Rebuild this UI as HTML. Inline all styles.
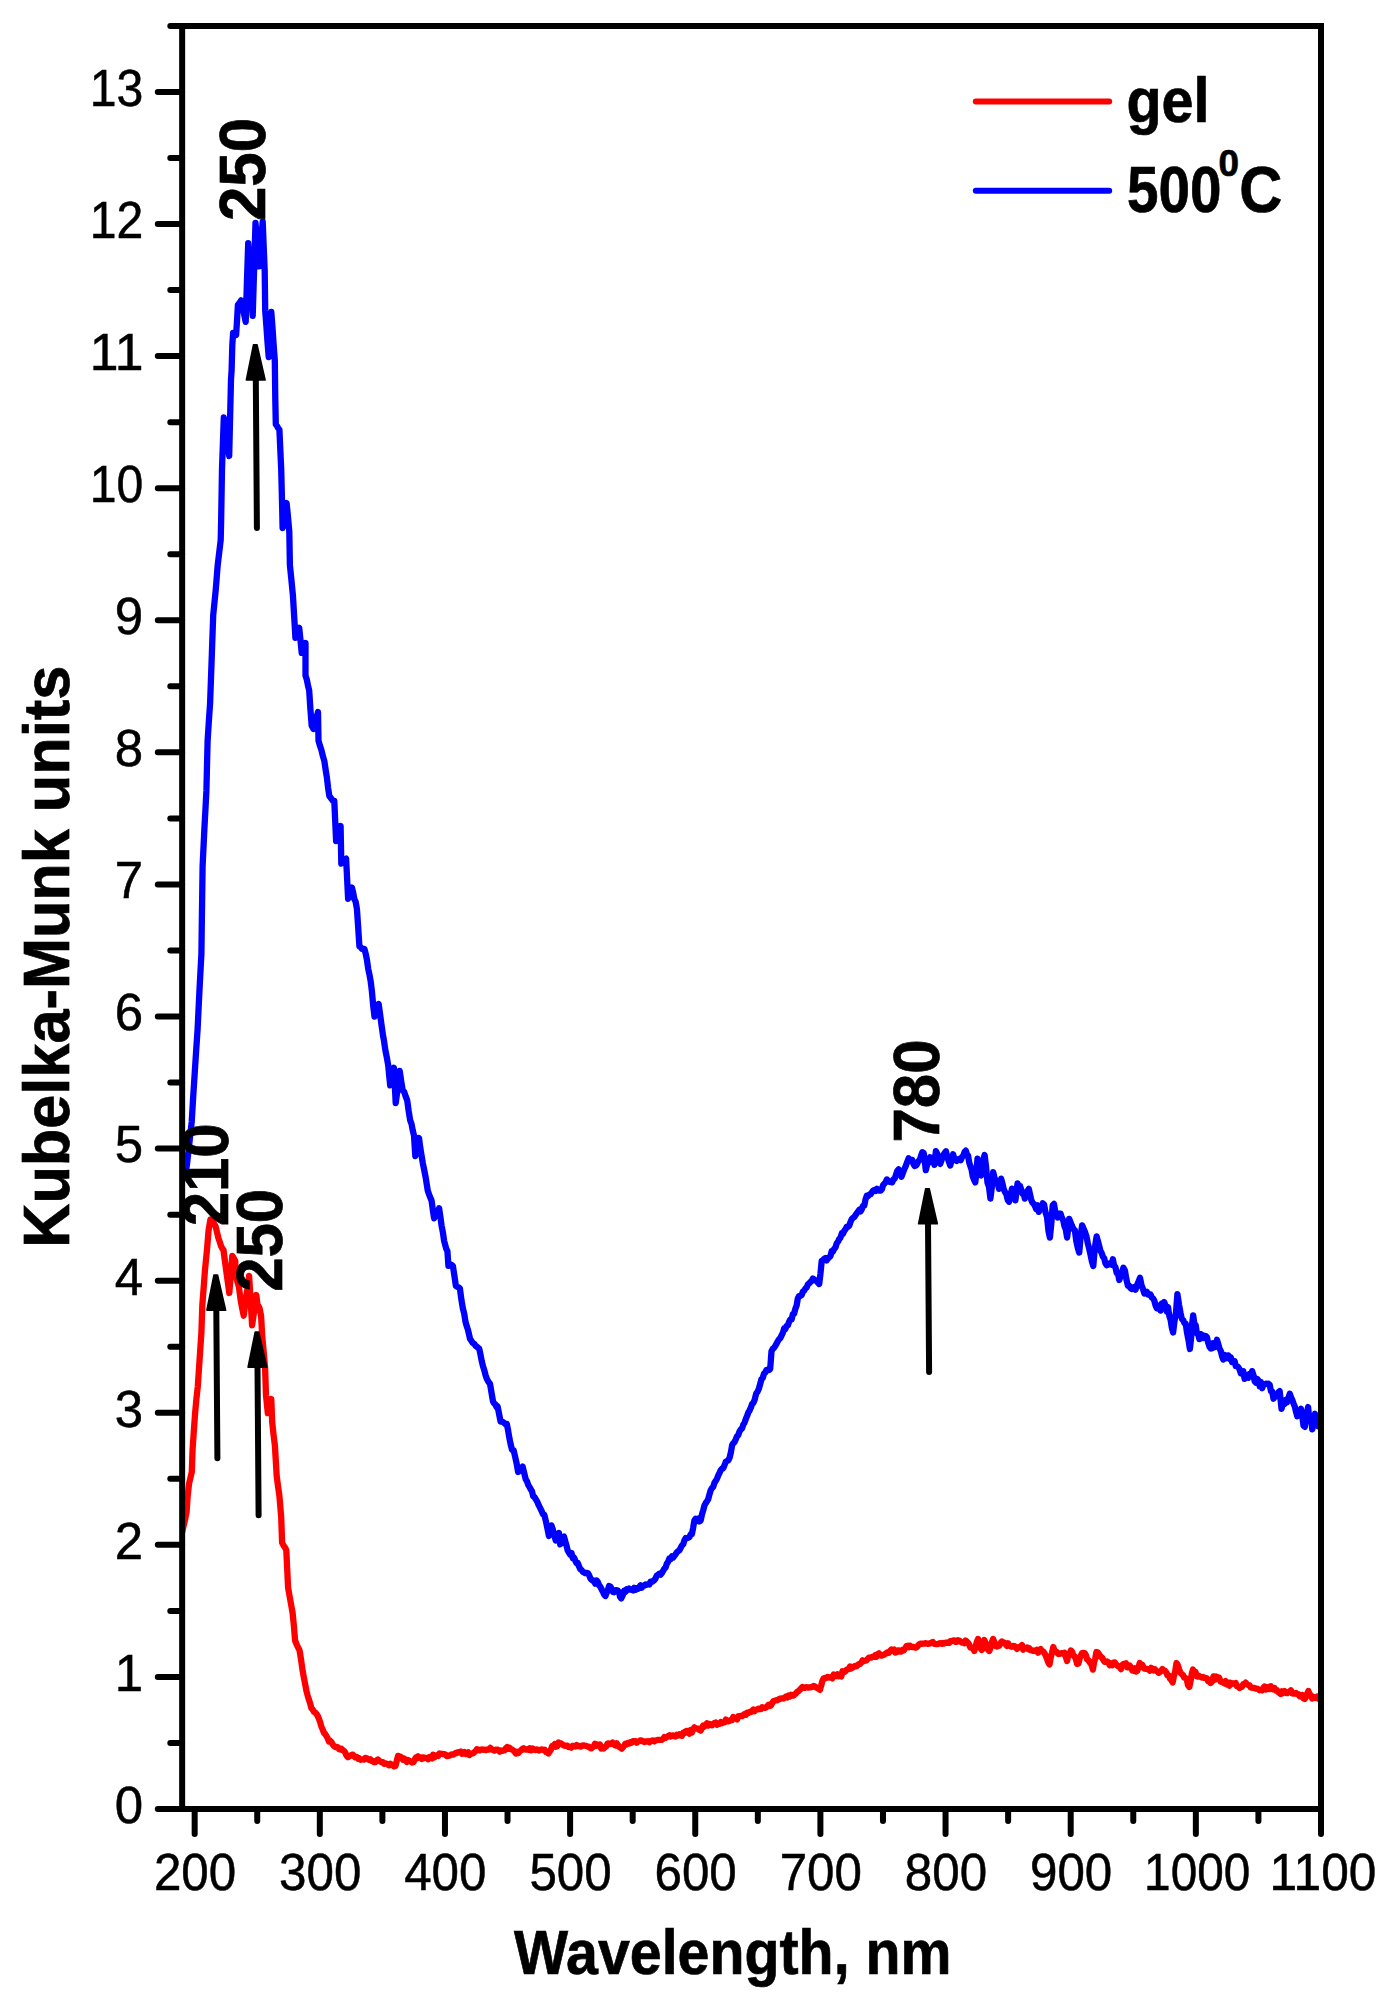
<!DOCTYPE html>
<html lang="en"><head><meta charset="utf-8"><title>Kubelka-Munk spectra</title>
<style>html,body{margin:0;padding:0;background:#fff}svg{display:block}text{font-family:"Liberation Sans",Arial,Helvetica,sans-serif;fill:#000}.b{font-weight:bold;stroke:#000;stroke-width:.7px}</style></head><body>
<svg width="1395" height="2007" viewBox="0 0 1395 2007">
<rect width="1395" height="2007" fill="#fff"/>
<defs><clipPath id="c"><rect x="182.15" y="25.95" width="1138.85" height="1783.05"/></clipPath></defs>
<g clip-path="url(#c)" fill="none" stroke-width="6.3" stroke-linejoin="round" stroke-linecap="round">
<path stroke="#0000ff" d="M185.6,1173.0 L186.9,1165.0 L188.1,1154.1 L189.3,1143.7 L190.5,1132.6 L191.7,1122.0 L193.2,1096.7 L194.8,1071.7 L196.2,1050.0 L197.6,1029.2 L199.4,991.6 L200.4,972.7 L201.4,954.0 L201.9,916.3 L202.6,866.1 L204.4,828.5 L205.4,810.2 L206.4,790.9 L207.6,740.7 L208.8,722.1 L210.1,703.1 L211.9,652.9 L213.2,615.3 L214.4,603.2 L215.7,590.2 L216.7,577.8 L217.7,565.1 L219.2,552.7 L220.7,540.0 L221.1,522.9 L222.0,469.0 L223.8,417.5 L225.2,427.2 L226.5,436.0 L227.8,446.8 L229.2,456.0 L231.0,379.4 L231.6,370.6 L232.3,345.5 L233.1,333.0 L234.6,334.2 L236.1,335.0 L237.1,319.4 L237.9,305.0 L239.5,302.9 L241.1,300.4 L242.2,305.0 L243.4,310.4 L244.5,316.1 L245.7,321.9 L246.9,282.3 L248.2,243.2 L249.7,267.6 L251.2,291.6 L252.7,315.9 L254.1,269.7 L255.5,223.0 L256.7,237.2 L257.8,252.1 L259.0,266.4 L260.2,251.6 L261.5,236.2 L262.7,221.6 L263.7,246.7 L264.7,270.3 L265.2,310.4 L266.4,326.2 L267.5,342.0 L268.7,357.0 L270.0,334.2 L271.3,311.9 L272.5,327.8 L273.6,344.2 L274.8,360.6 L275.3,399.7 L275.8,424.2 L277.0,426.0 L278.2,428.1 L279.4,429.6 L281.2,469.0 L282.1,504.9 L282.6,528.0 L283.9,519.8 L285.3,511.1 L286.6,503.0 L288.0,517.0 L289.3,531.8 L289.9,565.1 L291.4,579.9 L292.9,595.2 L294.7,625.3 L295.4,637.8 L296.7,635.0 L297.9,630.8 L299.2,627.8 L300.5,640.4 L301.7,652.9 L303.0,649.8 L304.2,646.6 L305.5,642.9 L305.5,675.5 L306.7,679.2 L308.0,685.5 L309.2,690.5 L310.4,709.3 L311.7,725.7 L313.5,729.0 L315.0,721.5 L316.5,717.4 L318.0,712.0 L318.5,740.7 L319.9,745.6 L321.4,750.0 L322.9,756.2 L324.3,760.8 L325.6,769.5 L326.8,777.0 L328.1,787.9 L329.3,795.9 L330.6,797.8 L331.8,799.3 L333.1,800.9 L334.3,800.9 L336.1,841.1 L337.6,836.4 L339.1,831.1 L340.6,826.0 L341.3,863.6 L342.5,861.2 L343.7,861.7 L344.9,859.3 L346.1,858.6 L347.1,878.3 L348.1,898.8 L349.4,893.9 L350.6,890.4 L351.9,887.5 L353.1,892.3 L354.4,899.3 L355.6,901.6 L356.9,908.8 L358.1,926.3 L359.4,946.4 L360.6,947.2 L361.9,948.9 L363.1,948.8 L364.4,948.9 L365.7,953.7 L366.9,959.7 L368.2,968.8 L369.4,974.3 L370.7,981.5 L372.0,992.2 L373.2,1005.8 L374.5,1016.7 L375.9,1013.5 L377.3,1008.4 L378.7,1004.1 L380.2,1015.2 L381.7,1026.2 L383.2,1036.7 L383.9,1040.1 L385.3,1049.9 L386.8,1057.4 L388.2,1065.2 L389.2,1075.7 L390.2,1085.3 L391.4,1079.9 L392.7,1072.2 L393.9,1067.7 L395.7,1103.0 L397.0,1093.5 L398.4,1082.5 L399.7,1071.0 L401.2,1081.1 L402.7,1090.3 L404.2,1091.9 L405.7,1096.5 L407.2,1100.4 L408.7,1111.2 L410.2,1120.4 L411.5,1123.8 L412.7,1130.3 L414.0,1135.5 L415.3,1156.0 L416.5,1150.9 L417.8,1142.8 L419.0,1138.0 L420.3,1147.8 L421.5,1155.2 L422.8,1163.1 L424.3,1170.5 L425.8,1178.1 L426.8,1184.7 L427.8,1190.7 L429.1,1194.6 L430.3,1197.5 L431.6,1200.7 L432.9,1210.5 L434.1,1218.3 L435.4,1215.2 L436.6,1212.9 L437.9,1211.7 L439.1,1208.2 L440.4,1217.0 L441.6,1225.8 L442.9,1232.5 L444.1,1240.8 L445.2,1245.0 L446.3,1248.9 L447.4,1250.9 L448.4,1265.9 L449.9,1265.5 L451.4,1264.7 L452.9,1265.9 L454.4,1275.8 L455.9,1286.0 L457.2,1286.7 L458.6,1287.4 L459.9,1288.5 L461.4,1299.8 L462.9,1308.6 L464.2,1313.5 L465.4,1321.4 L466.7,1326.1 L467.8,1329.2 L468.9,1333.8 L470.0,1338.7 L471.4,1340.9 L472.8,1343.0 L474.2,1343.7 L475.4,1345.7 L476.7,1346.5 L477.9,1347.6 L479.2,1348.7 L480.5,1354.7 L481.7,1361.0 L483.0,1366.3 L484.3,1370.3 L485.5,1374.9 L486.8,1378.8 L488.4,1381.8 L490.0,1383.8 L491.5,1392.6 L493.0,1401.4 L494.1,1403.3 L495.3,1404.4 L496.5,1407.0 L497.6,1406.4 L499.1,1414.2 L500.6,1421.5 L501.8,1421.6 L503.1,1422.2 L504.3,1423.0 L505.6,1424.3 L506.8,1424.0 L508.1,1430.4 L509.3,1437.7 L510.6,1444.1 L512.1,1449.9 L513.6,1450.1 L515.1,1456.6 L516.6,1463.3 L518.1,1472.0 L519.6,1470.4 L521.1,1468.8 L522.6,1466.6 L524.2,1473.1 L525.7,1479.2 L527.0,1481.3 L528.2,1484.8 L529.5,1487.0 L530.7,1489.2 L532.0,1491.2 L533.2,1496.4 L534.5,1497.0 L535.7,1499.2 L537.2,1501.6 L538.6,1504.9 L540.1,1507.9 L541.5,1510.8 L542.9,1514.1 L544.3,1514.8 L545.7,1520.4 L547.3,1527.8 L548.9,1536.0 L550.1,1531.6 L551.4,1525.4 L552.8,1529.4 L554.3,1535.4 L555.7,1540.5 L556.8,1538.9 L557.9,1536.3 L559.0,1533.0 L560.2,1544.3 L561.5,1543.1 L562.7,1537.7 L564.0,1536.7 L565.2,1541.0 L566.5,1545.6 L567.7,1550.5 L569.0,1552.7 L570.2,1554.8 L571.5,1553.1 L572.8,1558.2 L574.0,1557.6 L575.3,1560.6 L576.5,1563.1 L577.8,1563.0 L579.0,1566.4 L580.3,1569.2 L581.5,1569.9 L582.8,1571.9 L584.0,1572.4 L585.3,1573.2 L586.5,1572.9 L587.8,1573.1 L589.0,1574.9 L590.3,1578.2 L591.5,1579.7 L592.8,1580.6 L594.0,1580.7 L595.3,1583.7 L596.5,1580.5 L597.8,1581.9 L599.1,1585.2 L600.3,1586.7 L601.6,1589.4 L602.9,1591.7 L604.1,1594.4 L605.4,1596.0 L606.6,1592.9 L607.9,1589.9 L609.1,1586.0 L610.4,1586.6 L611.6,1588.6 L612.9,1591.9 L614.1,1592.2 L615.4,1590.4 L616.6,1590.1 L617.9,1590.7 L619.0,1592.0 L620.1,1597.0 L621.2,1598.5 L622.7,1595.3 L624.2,1590.7 L625.5,1591.8 L626.7,1589.3 L628.0,1589.9 L629.2,1588.6 L630.5,1589.4 L631.7,1589.8 L633.0,1590.4 L634.2,1587.9 L635.5,1589.8 L636.7,1588.2 L638.0,1588.7 L639.2,1587.2 L640.5,1585.2 L641.8,1587.8 L643.0,1586.0 L644.3,1585.7 L645.5,1584.5 L646.8,1584.8 L648.0,1584.2 L649.3,1584.5 L650.5,1581.6 L651.8,1581.9 L653.0,1581.3 L654.3,1580.1 L655.5,1578.5 L656.8,1575.6 L658.0,1574.8 L659.3,1573.7 L660.5,1574.6 L661.8,1573.1 L663.1,1570.9 L664.3,1568.7 L665.6,1567.6 L666.8,1563.8 L668.1,1561.8 L669.4,1558.5 L670.6,1559.0 L671.9,1556.4 L673.1,1557.5 L674.4,1555.8 L675.6,1554.3 L676.9,1552.2 L678.1,1551.1 L679.4,1550.3 L680.6,1548.0 L681.9,1545.6 L683.2,1544.2 L684.4,1540.4 L685.7,1538.0 L686.9,1538.2 L688.2,1537.8 L689.4,1537.2 L690.7,1534.4 L691.9,1534.2 L693.1,1528.1 L694.4,1520.4 L695.7,1518.7 L696.9,1519.4 L698.2,1518.6 L699.4,1521.4 L700.7,1520.4 L702.0,1514.3 L703.2,1510.4 L704.5,1505.4 L705.7,1503.1 L707.0,1501.2 L708.2,1499.1 L709.5,1494.2 L710.7,1490.3 L712.0,1488.0 L713.2,1486.9 L714.5,1482.8 L715.8,1480.8 L717.0,1478.7 L718.3,1475.3 L719.5,1473.1 L720.8,1470.1 L722.0,1468.7 L723.3,1468.2 L724.5,1465.2 L725.8,1461.8 L727.0,1460.9 L728.3,1460.5 L729.6,1457.7 L730.9,1452.2 L732.1,1445.2 L733.3,1443.2 L734.6,1441.9 L735.8,1439.3 L737.1,1436.1 L738.3,1435.1 L739.6,1431.2 L740.8,1429.5 L742.1,1428.4 L743.3,1424.6 L744.6,1422.6 L745.9,1418.8 L747.1,1415.9 L748.4,1412.2 L749.6,1410.4 L750.9,1407.5 L752.1,1403.9 L753.4,1402.8 L754.6,1400.0 L756.2,1393.6 L757.7,1391.4 L759.0,1388.2 L760.2,1383.8 L761.5,1379.1 L762.7,1378.0 L764.0,1373.8 L765.2,1372.6 L766.5,1369.8 L767.7,1370.0 L769.0,1370.1 L770.2,1368.8 L771.5,1351.2 L772.8,1348.8 L774.0,1347.9 L775.3,1345.9 L776.5,1343.8 L777.8,1341.2 L779.1,1339.3 L780.3,1338.1 L781.6,1335.3 L782.8,1333.0 L784.1,1328.5 L785.3,1329.1 L786.6,1326.1 L787.9,1325.2 L789.1,1321.7 L790.4,1319.4 L791.6,1319.5 L792.9,1314.1 L794.1,1313.6 L795.3,1309.0 L796.6,1305.7 L797.8,1298.5 L799.1,1296.0 L800.3,1295.8 L801.6,1295.2 L802.9,1291.7 L804.1,1290.7 L805.4,1288.5 L806.6,1287.6 L807.9,1284.4 L809.1,1283.4 L810.4,1282.1 L811.6,1280.9 L812.9,1278.5 L814.2,1279.6 L815.4,1280.5 L816.7,1280.9 L817.9,1282.6 L819.2,1284.0 L820.5,1273.3 L821.7,1260.9 L823.0,1260.3 L824.2,1258.7 L825.5,1258.0 L826.7,1260.4 L828.0,1258.4 L829.2,1257.2 L830.5,1255.9 L831.7,1251.1 L833.0,1251.5 L834.2,1248.8 L835.5,1247.4 L836.7,1243.4 L838.0,1241.7 L839.2,1239.1 L840.5,1237.6 L841.8,1233.3 L843.0,1233.8 L844.3,1230.8 L845.5,1229.3 L846.8,1226.6 L848.0,1226.7 L849.3,1225.4 L850.5,1222.0 L851.8,1219.0 L853.0,1217.9 L854.3,1217.0 L855.5,1215.1 L856.8,1213.2 L858.0,1211.6 L859.3,1209.8 L860.5,1211.4 L861.8,1209.1 L863.0,1205.9 L864.3,1205.7 L865.5,1199.5 L866.8,1195.7 L868.1,1196.2 L869.3,1194.6 L870.6,1194.3 L871.8,1192.4 L873.1,1190.7 L874.4,1189.9 L875.6,1190.9 L876.9,1188.8 L878.1,1190.0 L879.4,1190.6 L880.6,1190.7 L881.9,1189.2 L883.1,1185.1 L884.4,1183.7 L885.6,1182.3 L886.9,1179.4 L888.2,1180.7 L889.5,1181.9 L890.9,1182.0 L892.2,1182.4 L893.5,1179.3 L894.8,1178.4 L896.0,1174.7 L897.3,1170.8 L898.6,1169.4 L900.0,1172.1 L901.5,1176.7 L902.9,1173.0 L904.3,1169.2 L905.8,1165.9 L907.2,1162.0 L908.6,1158.3 L909.8,1159.8 L911.0,1160.5 L912.2,1160.1 L913.4,1163.8 L914.6,1166.0 L915.8,1165.6 L917.1,1164.1 L918.4,1161.1 L919.8,1159.9 L921.1,1155.7 L922.4,1152.2 L923.7,1152.9 L924.8,1161.6 L925.8,1170.2 L927.2,1164.5 L928.7,1162.6 L930.1,1157.2 L931.5,1158.1 L933.0,1158.3 L934.4,1164.8 L935.9,1151.2 L937.3,1153.8 L938.8,1162.0 L940.2,1163.8 L941.6,1160.1 L943.0,1155.4 L944.5,1153.2 L945.9,1151.2 L947.3,1156.8 L948.8,1161.5 L950.2,1165.6 L951.7,1160.2 L953.1,1154.3 L954.3,1158.7 L955.5,1159.8 L956.7,1160.9 L958.0,1159.4 L959.3,1158.8 L960.7,1160.2 L962.0,1157.1 L963.3,1155.8 L964.6,1151.9 L965.8,1150.7 L966.9,1154.1 L968.1,1155.7 L969.2,1162.5 L970.3,1165.9 L971.5,1169.3 L972.8,1176.6 L974.0,1179.6 L975.3,1182.4 L976.4,1172.6 L977.5,1158.6 L978.5,1166.1 L979.6,1174.5 L980.9,1175.5 L982.1,1167.6 L983.4,1159.4 L984.6,1155.0 L986.0,1166.1 L987.5,1182.7 L989.0,1186.8 L990.4,1198.5 L991.8,1187.4 L993.2,1172.2 L994.7,1178.6 L996.1,1180.5 L997.5,1182.0 L999.0,1188.8 L1000.0,1184.2 L1001.1,1178.7 L1002.4,1183.4 L1003.7,1189.0 L1005.0,1192.1 L1006.4,1194.2 L1007.7,1199.9 L1009.0,1201.8 L1010.5,1196.5 L1011.9,1188.7 L1013.1,1193.0 L1014.2,1196.6 L1015.4,1200.3 L1016.5,1191.2 L1017.6,1183.3 L1018.8,1187.4 L1020.0,1186.0 L1021.2,1189.5 L1022.4,1193.5 L1023.6,1192.7 L1024.8,1198.6 L1026.2,1193.7 L1027.6,1190.9 L1028.8,1188.9 L1030.1,1194.6 L1031.3,1200.1 L1032.5,1202.7 L1033.7,1203.8 L1035.0,1206.1 L1036.2,1209.2 L1037.5,1205.2 L1038.8,1211.8 L1040.2,1208.0 L1041.5,1208.6 L1042.8,1203.3 L1044.1,1204.5 L1045.5,1212.3 L1047.0,1216.9 L1048.5,1231.1 L1049.9,1237.6 L1051.3,1223.6 L1052.7,1205.2 L1054.0,1203.9 L1055.2,1211.2 L1056.5,1215.9 L1057.7,1217.5 L1059.1,1213.6 L1060.6,1213.7 L1062.0,1218.1 L1063.3,1220.5 L1064.5,1226.4 L1065.8,1229.5 L1067.1,1237.6 L1068.2,1228.3 L1069.2,1218.8 L1070.6,1222.3 L1072.1,1226.1 L1073.5,1229.1 L1074.9,1230.4 L1076.3,1241.3 L1077.8,1247.9 L1079.2,1252.6 L1080.7,1235.9 L1082.1,1225.3 L1083.5,1228.6 L1084.9,1231.8 L1086.4,1236.2 L1087.8,1243.2 L1089.2,1248.7 L1090.5,1254.6 L1091.9,1261.4 L1093.3,1266.0 L1094.4,1252.5 L1095.5,1243.4 L1096.6,1236.4 L1097.9,1241.1 L1099.1,1245.5 L1100.4,1250.7 L1101.7,1253.1 L1102.9,1256.8 L1104.2,1258.3 L1105.4,1263.2 L1106.6,1265.2 L1107.9,1264.8 L1109.1,1264.1 L1110.4,1263.1 L1111.6,1264.7 L1112.9,1259.2 L1114.1,1265.8 L1115.4,1267.1 L1116.7,1273.0 L1117.9,1273.0 L1119.2,1280.0 L1120.6,1276.4 L1122.0,1272.2 L1123.4,1267.8 L1124.9,1270.6 L1126.4,1279.2 L1127.9,1285.8 L1129.2,1285.7 L1130.4,1288.1 L1131.7,1289.1 L1133.0,1288.2 L1134.2,1287.0 L1135.5,1289.6 L1137.0,1285.3 L1138.5,1281.6 L1140.0,1277.8 L1141.4,1284.7 L1142.9,1288.9 L1144.3,1293.4 L1145.5,1292.5 L1146.8,1291.7 L1148.0,1294.7 L1149.3,1294.6 L1150.5,1294.4 L1151.8,1297.4 L1153.0,1298.4 L1154.3,1300.6 L1155.5,1305.3 L1156.8,1308.4 L1158.0,1308.6 L1159.3,1305.4 L1160.5,1310.6 L1161.8,1303.5 L1163.0,1305.7 L1164.3,1302.1 L1165.5,1305.8 L1166.8,1311.6 L1168.0,1307.0 L1169.3,1315.9 L1170.6,1319.7 L1171.8,1327.5 L1173.1,1332.5 L1174.5,1321.1 L1176.0,1312.3 L1177.4,1294.1 L1179.0,1304.5 L1180.6,1313.4 L1181.9,1318.9 L1183.2,1320.2 L1184.4,1323.2 L1185.7,1323.5 L1187.1,1333.2 L1188.5,1340.1 L1189.9,1349.0 L1191.0,1339.0 L1192.1,1324.1 L1193.2,1315.4 L1194.4,1324.2 L1195.7,1325.1 L1196.9,1333.5 L1198.2,1334.4 L1199.4,1339.1 L1200.7,1334.1 L1201.9,1335.0 L1203.2,1338.0 L1204.4,1335.7 L1205.7,1336.0 L1207.0,1337.3 L1208.2,1342.8 L1209.5,1346.7 L1210.7,1348.5 L1212.0,1348.4 L1213.2,1343.2 L1214.5,1347.3 L1215.7,1345.4 L1217.0,1339.8 L1218.2,1343.9 L1219.5,1348.6 L1220.8,1351.0 L1222.0,1356.1 L1223.3,1359.5 L1224.5,1354.8 L1225.8,1358.2 L1227.0,1355.7 L1228.3,1355.4 L1229.5,1358.8 L1230.8,1357.3 L1232.1,1362.1 L1233.3,1360.8 L1234.6,1361.0 L1235.8,1366.2 L1237.1,1366.1 L1238.3,1367.2 L1239.6,1369.3 L1240.8,1373.4 L1242.1,1373.7 L1243.3,1371.2 L1244.6,1378.9 L1245.8,1374.9 L1247.1,1376.1 L1248.4,1377.7 L1249.6,1374.1 L1250.9,1375.3 L1252.1,1371.1 L1253.4,1374.9 L1254.7,1381.3 L1255.9,1382.6 L1257.2,1378.9 L1258.4,1380.5 L1259.7,1386.2 L1260.9,1382.1 L1262.2,1388.2 L1263.4,1384.1 L1264.7,1384.6 L1265.9,1383.7 L1267.2,1383.8 L1268.4,1383.7 L1269.7,1384.9 L1271.0,1391.3 L1272.2,1391.6 L1273.5,1398.7 L1274.7,1397.0 L1276.0,1396.4 L1277.2,1395.3 L1278.5,1392.2 L1279.7,1391.2 L1281.5,1408.8 L1282.9,1404.2 L1284.3,1404.1 L1285.7,1400.1 L1287.0,1402.3 L1288.4,1398.0 L1289.8,1393.7 L1291.0,1397.2 L1292.3,1400.1 L1293.5,1403.4 L1294.8,1406.6 L1296.0,1411.7 L1297.3,1416.3 L1298.5,1414.5 L1299.8,1412.5 L1301.0,1408.8 L1302.3,1416.1 L1303.5,1425.6 L1304.8,1426.8 L1305.9,1418.6 L1307.0,1413.6 L1308.1,1407.0 L1309.5,1420.9 L1310.9,1417.6 L1312.3,1429.3 L1313.6,1420.4 L1314.9,1413.8 L1316.5,1420.4 L1318.1,1426.3 L1319.4,1424.6 L1320.7,1423.0 L1322.0,1420.0"/>
<path stroke="#ff0000" d="M182.2,1532.0 L183.3,1526.9 L184.5,1522.0 L185.6,1517.0 L186.6,1511.8 L187.6,1497.0 L189.0,1483.9 L190.4,1477.9 L191.8,1471.9 L192.6,1449.1 L193.8,1431.5 L195.1,1413.2 L196.4,1399.0 L197.8,1386.3 L199.6,1359.4 L201.4,1332.5 L202.3,1305.6 L203.7,1287.3 L205.0,1269.7 L206.8,1251.7 L208.6,1230.2 L210.4,1219.5 L211.7,1221.3 L213.1,1222.6 L214.4,1224.4 L215.7,1226.6 L217.1,1232.6 L218.4,1238.0 L219.7,1241.7 L221.0,1246.0 L222.2,1248.3 L223.5,1250.0 L224.5,1258.0 L225.7,1266.8 L226.8,1275.0 L228.1,1284.1 L229.3,1293.0 L230.8,1274.6 L232.3,1255.8 L233.8,1258.4 L235.3,1261.0 L235.6,1276.0 L236.7,1279.0 L237.8,1283.2 L238.9,1286.8 L240.7,1300.5 L242.2,1308.3 L243.7,1315.7 L245.0,1305.5 L246.4,1295.7 L247.8,1286.1 L249.1,1275.8 L250.6,1300.2 L252.1,1325.3 L253.5,1315.5 L254.9,1305.8 L256.3,1295.0 L257.5,1304.7 L258.5,1306.1 L259.5,1308.0 L261.1,1316.1 L262.3,1337.6 L263.5,1349.6 L265.1,1368.3 L266.0,1395.2 L267.8,1413.2 L269.0,1408.5 L270.1,1403.7 L271.3,1399.0 L272.2,1422.2 L273.5,1434.5 L274.9,1445.5 L276.7,1476.0 L278.0,1486.0 L279.4,1495.7 L281.2,1517.2 L282.1,1542.6 L283.5,1545.5 L284.9,1547.4 L286.3,1550.2 L288.1,1587.8 L289.6,1596.2 L291.1,1604.5 L292.6,1612.9 L293.9,1626.0 L295.1,1640.5 L296.6,1644.4 L298.1,1647.5 L299.6,1650.5 L301.1,1659.9 L302.6,1670.6 L303.9,1677.6 L305.1,1683.9 L306.4,1690.7 L307.6,1695.3 L308.9,1699.6 L310.1,1703.2 L311.4,1708.2 L312.7,1709.6 L313.9,1711.8 L315.2,1712.5 L316.4,1713.9 L317.7,1715.8 L319.0,1719.0 L320.2,1722.3 L321.5,1727.0 L322.7,1729.5 L324.0,1732.9 L325.2,1734.1 L326.5,1736.2 L327.7,1738.3 L329.0,1741.6 L330.2,1740.8 L331.5,1742.2 L332.8,1744.6 L334.0,1746.1 L335.3,1747.1 L336.5,1746.8 L337.8,1747.2 L339.0,1749.0 L340.3,1749.5 L341.5,1748.8 L342.8,1750.2 L344.0,1750.9 L345.3,1752.6 L346.5,1755.5 L347.8,1757.2 L349.1,1756.5 L350.3,1755.8 L351.6,1755.0 L352.8,1754.6 L354.1,1756.3 L355.3,1757.4 L356.6,1756.9 L357.9,1758.7 L359.1,1758.2 L360.4,1759.7 L361.6,1759.3 L362.9,1759.4 L364.1,1759.6 L365.4,1757.9 L366.6,1758.2 L367.9,1759.1 L369.1,1759.9 L370.4,1759.2 L371.6,1761.0 L372.9,1761.0 L374.1,1762.2 L375.4,1762.2 L376.6,1760.6 L377.9,1759.6 L379.2,1760.9 L380.4,1761.5 L381.7,1762.2 L382.9,1762.1 L384.2,1763.8 L385.4,1763.4 L386.7,1763.7 L387.9,1764.7 L389.2,1765.3 L390.4,1763.8 L391.7,1764.8 L393.0,1765.5 L394.2,1766.4 L395.5,1765.9 L396.8,1760.8 L398.0,1755.9 L399.2,1756.8 L400.5,1756.6 L401.8,1758.0 L403.0,1759.8 L404.2,1758.5 L405.5,1759.7 L406.8,1762.0 L408.2,1760.0 L409.5,1761.0 L410.8,1761.5 L412.2,1762.6 L413.5,1762.2 L414.6,1759.8 L415.8,1757.6 L417.0,1758.3 L418.1,1756.4 L419.4,1757.2 L420.6,1757.3 L421.9,1759.0 L423.1,1757.3 L424.4,1757.5 L425.6,1758.2 L426.9,1758.0 L428.1,1759.2 L429.4,1757.0 L430.6,1757.9 L431.9,1758.4 L433.1,1754.8 L434.4,1757.4 L435.6,1755.6 L436.9,1755.8 L438.1,1756.0 L439.4,1753.4 L440.7,1753.8 L441.9,1753.9 L443.2,1754.1 L444.4,1754.2 L445.7,1754.7 L446.9,1756.1 L448.2,1755.9 L449.4,1755.5 L450.7,1755.0 L451.9,1754.3 L453.2,1754.7 L454.4,1753.9 L455.7,1752.9 L456.9,1753.1 L458.2,1752.1 L459.4,1752.2 L460.7,1751.5 L461.9,1753.8 L463.2,1753.2 L464.4,1752.2 L465.7,1754.0 L466.9,1753.6 L468.2,1752.3 L469.4,1755.0 L470.7,1753.9 L472.0,1753.5 L473.2,1753.2 L474.5,1751.9 L475.8,1750.9 L477.0,1749.1 L478.3,1749.6 L479.6,1750.4 L481.0,1749.6 L482.3,1749.4 L483.7,1749.9 L485.0,1749.7 L486.4,1750.1 L487.7,1749.3 L489.1,1749.6 L490.4,1747.9 L491.8,1749.3 L493.1,1750.1 L494.5,1750.7 L495.8,1749.6 L497.1,1749.6 L498.3,1750.0 L499.6,1751.6 L500.8,1750.4 L502.1,1750.9 L503.4,1750.5 L504.6,1750.3 L505.9,1748.1 L507.1,1747.1 L508.4,1748.7 L509.6,1747.8 L510.9,1749.2 L512.1,1749.6 L513.4,1750.4 L514.6,1751.9 L515.9,1753.5 L517.1,1751.7 L518.4,1752.9 L519.7,1751.1 L520.9,1750.6 L522.2,1748.9 L523.5,1748.2 L524.8,1749.5 L526.1,1749.7 L527.4,1749.1 L528.7,1749.9 L529.9,1748.3 L531.2,1750.3 L532.5,1748.5 L533.8,1749.3 L535.1,1750.0 L536.5,1749.5 L537.8,1749.6 L539.2,1750.5 L540.6,1749.8 L542.0,1749.4 L543.3,1750.1 L544.7,1749.6 L546.0,1752.1 L547.2,1752.1 L548.5,1753.4 L549.8,1751.2 L551.0,1749.4 L552.3,1745.9 L553.6,1745.8 L554.8,1744.2 L556.1,1746.8 L557.3,1746.2 L558.6,1742.5 L559.8,1743.7 L561.1,1743.4 L562.4,1744.4 L563.6,1745.4 L564.9,1745.8 L566.1,1745.6 L567.4,1745.6 L568.6,1747.1 L569.9,1747.1 L571.3,1747.7 L572.6,1746.0 L574.0,1745.9 L575.3,1746.6 L576.7,1745.0 L578.0,1746.2 L579.4,1746.0 L580.7,1746.6 L582.1,1745.6 L583.4,1745.4 L584.8,1745.7 L586.1,1745.9 L587.4,1746.5 L588.7,1746.6 L589.9,1747.8 L591.2,1748.4 L592.4,1747.5 L593.7,1746.3 L594.9,1743.9 L596.2,1745.9 L597.4,1744.6 L598.7,1745.5 L599.9,1744.5 L601.2,1748.6 L602.4,1747.2 L603.7,1748.4 L605.0,1747.1 L606.2,1746.3 L607.5,1743.6 L608.7,1743.4 L610.0,1744.0 L611.3,1743.8 L612.6,1742.6 L614.0,1744.5 L615.3,1745.5 L616.6,1743.3 L617.9,1745.0 L619.2,1746.9 L620.4,1747.6 L621.7,1748.7 L622.9,1747.4 L624.2,1745.7 L625.4,1743.7 L626.7,1744.4 L627.9,1742.9 L629.2,1743.5 L630.5,1742.1 L631.7,1742.7 L633.0,1741.2 L634.2,1741.4 L635.5,1741.2 L636.8,1742.6 L638.0,1741.6 L639.2,1741.1 L640.5,1740.3 L641.8,1740.6 L643.0,1741.4 L644.2,1742.0 L645.5,1741.5 L646.8,1741.6 L648.0,1741.2 L649.2,1742.3 L650.5,1741.2 L651.8,1740.7 L653.0,1740.4 L654.3,1741.4 L655.5,1740.6 L656.8,1740.2 L658.1,1739.8 L659.3,1739.9 L660.6,1739.9 L661.9,1739.8 L663.1,1738.9 L664.4,1737.1 L665.6,1737.8 L666.9,1737.0 L668.1,1736.2 L669.4,1735.3 L670.6,1736.6 L671.9,1735.6 L673.1,1735.4 L674.4,1736.2 L675.6,1736.5 L676.9,1734.7 L678.1,1735.5 L679.4,1734.3 L680.6,1734.9 L681.9,1735.8 L683.2,1732.7 L684.4,1733.1 L685.7,1731.2 L686.9,1730.9 L688.2,1732.3 L689.4,1733.7 L690.7,1730.1 L691.9,1732.4 L693.1,1729.6 L694.4,1727.4 L695.6,1728.4 L696.9,1728.6 L698.1,1728.7 L699.4,1729.9 L700.7,1730.6 L701.9,1728.0 L703.2,1725.6 L704.4,1726.6 L705.7,1724.9 L707.0,1723.4 L708.2,1725.6 L709.5,1724.0 L710.7,1724.5 L712.0,1725.3 L713.3,1724.2 L714.5,1722.9 L715.8,1722.5 L717.0,1724.7 L718.3,1723.6 L719.5,1723.8 L720.8,1722.2 L722.0,1723.2 L723.3,1722.5 L724.5,1722.3 L725.8,1719.6 L727.0,1720.8 L728.3,1721.4 L729.5,1720.9 L730.8,1719.9 L732.1,1720.1 L733.3,1716.9 L734.6,1718.5 L735.8,1718.3 L737.1,1719.4 L738.4,1716.1 L739.6,1716.1 L740.9,1715.9 L742.1,1716.1 L743.4,1714.9 L744.6,1714.0 L745.9,1714.8 L747.1,1712.7 L748.4,1713.1 L749.6,1711.9 L750.9,1712.0 L752.1,1710.8 L753.4,1709.5 L754.6,1711.2 L755.9,1709.8 L757.2,1709.7 L758.4,1708.7 L759.7,1709.0 L760.9,1709.2 L762.2,1707.3 L763.4,1707.7 L764.7,1707.9 L765.9,1707.5 L767.2,1706.5 L768.4,1704.8 L769.7,1706.1 L771.0,1705.4 L772.2,1703.0 L773.5,1701.1 L774.8,1700.8 L776.0,1700.2 L777.2,1700.3 L778.5,1699.5 L779.8,1698.7 L781.0,1698.6 L782.2,1698.3 L783.5,1698.5 L784.8,1697.5 L786.0,1696.6 L787.2,1697.5 L788.5,1695.5 L789.8,1696.5 L791.0,1694.7 L792.2,1695.3 L793.5,1695.6 L794.8,1694.2 L796.0,1693.5 L797.3,1691.7 L798.5,1691.0 L799.8,1689.9 L801.1,1688.5 L802.4,1686.9 L803.6,1687.5 L804.9,1687.9 L806.1,1687.1 L807.4,1687.3 L808.6,1687.6 L809.9,1687.4 L811.1,1687.2 L812.4,1686.7 L813.6,1686.0 L814.9,1686.5 L816.1,1687.5 L817.4,1688.1 L818.6,1688.8 L819.9,1689.8 L821.1,1685.9 L822.4,1680.9 L823.6,1678.5 L824.9,1678.0 L826.1,1678.0 L827.4,1677.0 L828.6,1677.5 L829.9,1677.7 L831.2,1676.9 L832.4,1678.4 L833.7,1674.4 L834.9,1676.1 L836.2,1676.0 L837.5,1674.3 L838.7,1676.3 L840.0,1675.3 L841.3,1676.4 L842.5,1671.2 L843.8,1672.3 L845.1,1671.6 L846.3,1669.9 L847.6,1669.1 L848.9,1669.1 L850.1,1666.4 L851.4,1668.4 L852.6,1667.5 L853.9,1666.7 L855.1,1665.8 L856.4,1666.3 L857.6,1665.3 L858.9,1664.1 L860.1,1663.9 L861.4,1662.5 L862.6,1660.4 L863.9,1661.3 L865.1,1660.7 L866.4,1660.4 L867.6,1659.0 L868.9,1657.7 L870.1,1657.7 L871.4,1657.6 L872.7,1656.6 L873.9,1656.9 L875.2,1655.3 L876.5,1656.7 L877.7,1654.2 L879.0,1653.3 L880.2,1655.3 L881.5,1655.7 L882.7,1655.1 L884.0,1654.8 L885.2,1654.0 L886.5,1652.9 L887.7,1652.2 L889.0,1652.8 L890.2,1650.7 L891.5,1649.4 L892.7,1650.2 L894.0,1649.6 L895.2,1652.6 L896.5,1652.3 L897.7,1650.4 L899.0,1650.5 L900.2,1651.5 L901.5,1651.5 L902.8,1649.7 L904.0,1650.2 L905.3,1648.0 L906.5,1646.0 L907.8,1645.7 L909.0,1647.1 L910.3,1645.9 L911.5,1646.9 L912.8,1647.0 L914.0,1647.1 L915.3,1647.7 L916.5,1647.4 L917.8,1646.0 L919.0,1644.5 L920.3,1643.7 L921.5,1643.9 L922.8,1643.7 L924.0,1643.7 L925.3,1643.2 L926.6,1643.3 L927.8,1643.8 L929.1,1643.6 L930.3,1643.0 L931.6,1643.1 L932.9,1642.1 L934.1,1643.8 L935.4,1644.0 L936.6,1644.2 L937.9,1644.1 L939.1,1643.4 L940.4,1643.2 L941.6,1643.9 L942.9,1643.0 L944.1,1643.5 L945.4,1642.7 L946.7,1642.9 L947.9,1642.4 L949.2,1643.0 L950.4,1641.2 L951.7,1641.2 L953.0,1640.6 L954.2,1640.3 L955.5,1641.9 L956.7,1641.9 L958.0,1640.2 L959.2,1640.5 L960.5,1641.5 L961.8,1642.5 L963.0,1642.4 L964.2,1643.2 L965.5,1640.6 L966.8,1641.6 L968.0,1642.7 L969.3,1644.9 L970.5,1647.7 L971.8,1647.8 L973.0,1648.3 L974.3,1651.0 L975.5,1646.6 L976.8,1642.2 L978.0,1639.0 L979.3,1641.6 L980.5,1648.1 L981.8,1650.0 L983.0,1644.2 L984.3,1640.0 L985.5,1642.8 L986.8,1648.1 L988.0,1649.7 L989.3,1651.0 L990.6,1647.4 L991.8,1642.3 L993.1,1639.0 L994.3,1642.0 L995.6,1645.9 L996.8,1646.5 L998.1,1646.0 L999.3,1645.5 L1000.6,1642.9 L1001.9,1641.5 L1003.1,1642.8 L1004.4,1642.7 L1005.6,1644.2 L1006.9,1645.9 L1008.1,1643.4 L1009.4,1645.7 L1010.6,1646.5 L1011.9,1646.8 L1013.1,1645.8 L1014.4,1646.1 L1015.7,1647.4 L1016.9,1648.9 L1018.2,1647.3 L1019.4,1646.9 L1020.7,1646.5 L1022.0,1645.1 L1023.2,1649.7 L1024.5,1648.0 L1025.7,1648.3 L1027.0,1647.5 L1028.2,1649.2 L1029.5,1648.4 L1030.7,1650.2 L1032.0,1650.4 L1033.2,1651.0 L1034.5,1650.6 L1035.7,1651.1 L1037.0,1649.8 L1038.2,1652.7 L1039.5,1650.3 L1040.7,1649.1 L1042.0,1651.1 L1043.2,1651.5 L1044.5,1653.2 L1045.7,1655.5 L1047.0,1658.9 L1048.2,1662.2 L1049.5,1664.5 L1050.8,1657.2 L1052.0,1652.7 L1053.3,1647.0 L1054.5,1650.5 L1055.8,1651.3 L1057.0,1652.1 L1058.3,1654.0 L1059.6,1653.9 L1060.8,1653.4 L1062.1,1653.2 L1063.3,1653.9 L1064.6,1652.8 L1065.8,1656.8 L1067.1,1661.0 L1068.3,1654.6 L1069.6,1654.0 L1070.8,1650.5 L1072.1,1651.6 L1073.3,1655.6 L1074.6,1656.3 L1075.9,1659.3 L1077.1,1663.9 L1078.4,1663.5 L1079.6,1658.7 L1080.9,1655.2 L1082.1,1653.0 L1083.4,1652.8 L1084.6,1653.0 L1085.9,1655.1 L1087.1,1659.3 L1088.4,1660.3 L1089.9,1662.6 L1091.4,1664.3 L1092.9,1669.6 L1094.1,1662.0 L1095.2,1658.6 L1096.4,1652.0 L1097.9,1652.5 L1099.3,1654.5 L1100.8,1656.7 L1102.2,1657.8 L1103.5,1660.3 L1104.7,1661.9 L1106.0,1661.7 L1107.2,1661.5 L1108.5,1662.4 L1109.7,1665.3 L1111.0,1664.0 L1112.2,1665.1 L1113.5,1662.5 L1114.7,1662.3 L1116.0,1664.2 L1117.2,1665.4 L1118.5,1666.4 L1119.7,1667.1 L1121.0,1669.1 L1122.2,1665.0 L1123.5,1664.0 L1124.8,1664.0 L1126.0,1663.4 L1127.3,1667.4 L1128.6,1667.2 L1129.8,1665.7 L1131.1,1667.8 L1132.3,1670.4 L1133.6,1670.8 L1134.8,1668.4 L1136.1,1671.6 L1137.3,1670.9 L1138.6,1666.8 L1139.8,1663.0 L1141.1,1667.1 L1142.3,1664.7 L1143.6,1667.8 L1144.8,1668.7 L1146.1,1668.9 L1147.3,1669.0 L1148.6,1669.3 L1149.8,1670.6 L1151.1,1667.9 L1152.3,1668.5 L1153.6,1670.3 L1154.9,1669.3 L1156.2,1670.9 L1157.4,1671.4 L1158.7,1672.8 L1159.9,1672.0 L1161.2,1670.7 L1162.4,1669.1 L1163.7,1670.4 L1164.9,1670.8 L1166.2,1672.3 L1167.4,1675.2 L1168.7,1675.3 L1170.0,1678.6 L1171.4,1680.2 L1172.7,1682.5 L1174.0,1675.6 L1175.2,1671.4 L1176.5,1663.0 L1177.8,1665.1 L1179.1,1669.3 L1180.4,1672.7 L1181.7,1674.1 L1183.0,1675.0 L1184.2,1677.6 L1185.5,1677.8 L1186.8,1679.5 L1188.0,1685.1 L1189.3,1687.0 L1190.5,1681.4 L1191.8,1673.4 L1193.0,1669.5 L1194.2,1672.1 L1195.5,1672.0 L1196.8,1676.4 L1198.0,1676.6 L1199.3,1676.0 L1200.5,1676.8 L1201.8,1677.5 L1203.1,1677.0 L1204.3,1677.9 L1205.6,1677.8 L1206.8,1678.4 L1208.1,1681.2 L1209.3,1681.6 L1210.6,1682.9 L1212.0,1681.6 L1213.5,1676.4 L1215.0,1679.6 L1216.4,1676.6 L1217.8,1678.3 L1219.2,1677.8 L1220.6,1681.6 L1221.9,1681.9 L1223.1,1682.5 L1224.4,1683.4 L1225.6,1681.0 L1226.9,1684.4 L1228.2,1682.5 L1229.4,1685.7 L1230.7,1682.9 L1231.9,1684.0 L1233.2,1683.4 L1234.5,1683.5 L1235.7,1683.1 L1237.0,1686.3 L1238.2,1686.6 L1239.5,1687.9 L1240.7,1686.6 L1242.0,1686.8 L1243.2,1684.2 L1244.5,1684.1 L1245.7,1682.6 L1247.0,1684.4 L1248.2,1684.9 L1249.5,1685.3 L1250.7,1687.5 L1252.0,1687.8 L1253.2,1687.9 L1254.5,1687.9 L1255.7,1688.7 L1257.0,1688.6 L1258.3,1689.3 L1259.5,1690.2 L1260.8,1689.6 L1262.0,1690.3 L1263.3,1687.9 L1264.5,1686.5 L1265.8,1689.6 L1267.0,1687.7 L1268.3,1687.1 L1269.5,1689.0 L1270.8,1686.2 L1272.0,1688.4 L1273.3,1689.3 L1274.5,1688.1 L1275.8,1690.4 L1277.0,1690.2 L1278.3,1692.1 L1279.5,1692.9 L1280.8,1694.0 L1282.0,1691.4 L1283.3,1692.9 L1284.6,1691.0 L1285.8,1693.0 L1287.1,1693.2 L1288.3,1692.1 L1289.6,1691.6 L1290.9,1690.4 L1292.1,1693.3 L1293.4,1693.7 L1294.6,1693.7 L1295.9,1692.9 L1297.1,1694.2 L1298.4,1694.2 L1299.7,1696.1 L1300.9,1695.4 L1302.2,1694.9 L1303.4,1698.4 L1304.7,1699.0 L1305.9,1696.9 L1307.2,1693.7 L1308.4,1691.0 L1309.7,1694.6 L1310.9,1695.3 L1312.2,1698.5 L1313.5,1698.0 L1314.7,1697.2 L1316.0,1697.8 L1317.2,1696.7 L1318.4,1698.7 L1319.6,1696.5 L1320.8,1699.4 L1322.0,1697.0"/>
</g>
<g stroke="#000" stroke-width="6" stroke-linecap="round" fill="none">
<path d="M170.3,25.95 H1321.0"/>
<path d="M157.8,1809.0 H1321.0"/>
<path stroke-linecap="butt" d="M182.15,25.95 V1809.0"/>
<path stroke-linecap="butt" d="M1321.0,22.95 V1809.0"/>
<path d="M157.8,1676.92 H182.15 M157.8,1544.84 H182.15 M157.8,1412.76 H182.15 M157.8,1280.68 H182.15 M157.8,1148.60 H182.15 M157.8,1016.52 H182.15 M157.8,884.44 H182.15 M157.8,752.36 H182.15 M157.8,620.28 H182.15 M157.8,488.20 H182.15 M157.8,356.12 H182.15 M157.8,224.04 H182.15 M157.8,91.96 H182.15 M170.3,1742.96 H182.15 M170.3,1610.88 H182.15 M170.3,1478.80 H182.15 M170.3,1346.72 H182.15 M170.3,1214.64 H182.15 M170.3,1082.56 H182.15 M170.3,950.48 H182.15 M170.3,818.40 H182.15 M170.3,686.32 H182.15 M170.3,554.24 H182.15 M170.3,422.16 H182.15 M170.3,290.08 H182.15 M170.3,158.00 H182.15 "/>
<path d="M194.66,1809.0 V1833.9 M319.81,1809.0 V1833.9 M444.96,1809.0 V1833.9 M570.11,1809.0 V1833.9 M695.26,1809.0 V1833.9 M820.40,1809.0 V1833.9 M945.55,1809.0 V1833.9 M1070.70,1809.0 V1833.9 M1195.85,1809.0 V1833.9 M1321.00,1809.0 V1833.9 M257.24,1809.0 V1820.9 M382.39,1809.0 V1820.9 M507.53,1809.0 V1820.9 M632.68,1809.0 V1820.9 M757.83,1809.0 V1820.9 M882.98,1809.0 V1820.9 M1008.13,1809.0 V1820.9 M1133.27,1809.0 V1820.9 M1258.42,1809.0 V1820.9 "/>
</g>
<g font-size="51" stroke="#000" stroke-width="0.5">
<text x="114.8" y="1822.8">0</text>
<text x="114.8" y="1690.7">1</text>
<text x="114.8" y="1558.6">2</text>
<text x="114.8" y="1426.6">3</text>
<text x="114.8" y="1294.5">4</text>
<text x="114.8" y="1162.4">5</text>
<text x="114.8" y="1030.3">6</text>
<text x="114.8" y="898.2">7</text>
<text x="114.8" y="766.2">8</text>
<text x="114.8" y="634.1">9</text>
<text x="89.8" y="502.0" textLength="53.6" lengthAdjust="spacingAndGlyphs">10</text>
<text x="89.8" y="369.9" textLength="53.6" lengthAdjust="spacingAndGlyphs">11</text>
<text x="89.8" y="237.8" textLength="53.6" lengthAdjust="spacingAndGlyphs">12</text>
<text x="89.8" y="105.8" textLength="53.6" lengthAdjust="spacingAndGlyphs">13</text>
<text x="153.9" y="1890.1" textLength="82.3" lengthAdjust="spacingAndGlyphs">200</text>
<text x="279.1" y="1890.1" textLength="82.3" lengthAdjust="spacingAndGlyphs">300</text>
<text x="404.2" y="1890.1" textLength="82.3" lengthAdjust="spacingAndGlyphs">400</text>
<text x="529.4" y="1890.1" textLength="82.3" lengthAdjust="spacingAndGlyphs">500</text>
<text x="654.5" y="1890.1" textLength="82.3" lengthAdjust="spacingAndGlyphs">600</text>
<text x="779.7" y="1890.1" textLength="82.3" lengthAdjust="spacingAndGlyphs">700</text>
<text x="904.8" y="1890.1" textLength="82.3" lengthAdjust="spacingAndGlyphs">800</text>
<text x="1030.0" y="1890.1" textLength="82.3" lengthAdjust="spacingAndGlyphs">900</text>
<text x="1144.1" y="1890.1" textLength="106.3" lengthAdjust="spacingAndGlyphs">1000</text>
<text x="1269.6" y="1890.1" textLength="106.8" lengthAdjust="spacingAndGlyphs">1100</text>
</g>
<text class="b" font-size="62.5" x="514.0" y="1973.6" textLength="437.5" lengthAdjust="spacingAndGlyphs">Wavelength, nm</text>
<text class="b" font-size="64" transform="translate(68.5 1247.8) rotate(-90)" x="0" y="0" textLength="582" lengthAdjust="spacingAndGlyphs">Kubelka-Munk units</text>
<g stroke-width="6" stroke-linecap="round"><path stroke="#ff0000" d="M975.8,101.6 H1109.2"/><path stroke="#0000ff" d="M975.8,190.8 H1109.2"/></g>
<text class="b" font-size="62.8" x="1126.5" y="121.9" textLength="83" lengthAdjust="spacingAndGlyphs">gel</text>
<text class="b" font-size="65" x="1127" y="211.6"><tspan textLength="94.5" lengthAdjust="spacingAndGlyphs">500</tspan></text>
<text class="b" font-size="37.5" x="1218.6" y="176.4" textLength="20.5" lengthAdjust="spacingAndGlyphs">0</text>
<text class="b" font-size="65" x="1239.2" y="211.6" textLength="43" lengthAdjust="spacingAndGlyphs">C</text>
<text class="b" font-size="65" transform="translate(265.1 218.9) rotate(-90)" x="-2.1" y="0" textLength="103.0" lengthAdjust="spacingAndGlyphs">250</text>
<text class="b" font-size="65" transform="translate(228.0 1224.2) rotate(-90)" x="-2.1" y="0" textLength="103.0" lengthAdjust="spacingAndGlyphs">210</text>
<text class="b" font-size="65" transform="translate(282.4 1289.7) rotate(-90)" x="-2.1" y="0" textLength="103.0" lengthAdjust="spacingAndGlyphs">250</text>
<text class="b" font-size="65" transform="translate(938.9 1139.8) rotate(-90)" x="-2.7" y="0" textLength="103.0" lengthAdjust="spacingAndGlyphs">780</text>
<path d="M255.8,378.7 L256.9,528.0" stroke="#000" stroke-width="6" stroke-linecap="round" fill="none"/>
<path d="M253.5,344.8 L257.0,344.8 L265.1,379.9 L246.4,379.9 Z" fill="#000" stroke="#000" stroke-width="1.6" stroke-linejoin="round"/>
<path d="M216.3,1308.9 L217.4,1458.2" stroke="#000" stroke-width="6" stroke-linecap="round" fill="none"/>
<path d="M214.0,1275.0 L217.5,1275.0 L225.6,1310.1 L206.9,1310.1 Z" fill="#000" stroke="#000" stroke-width="1.6" stroke-linejoin="round"/>
<path d="M257.5,1366.0 L258.6,1515.3" stroke="#000" stroke-width="6" stroke-linecap="round" fill="none"/>
<path d="M255.2,1332.1 L258.7,1332.1 L266.8,1367.2 L248.1,1367.2 Z" fill="#000" stroke="#000" stroke-width="1.6" stroke-linejoin="round"/>
<path d="M928.0,1222.6 L929.1,1371.9" stroke="#000" stroke-width="6" stroke-linecap="round" fill="none"/>
<path d="M925.7,1188.7 L929.2,1188.7 L937.3,1223.8 L918.6,1223.8 Z" fill="#000" stroke="#000" stroke-width="1.6" stroke-linejoin="round"/>
</svg></body></html>
